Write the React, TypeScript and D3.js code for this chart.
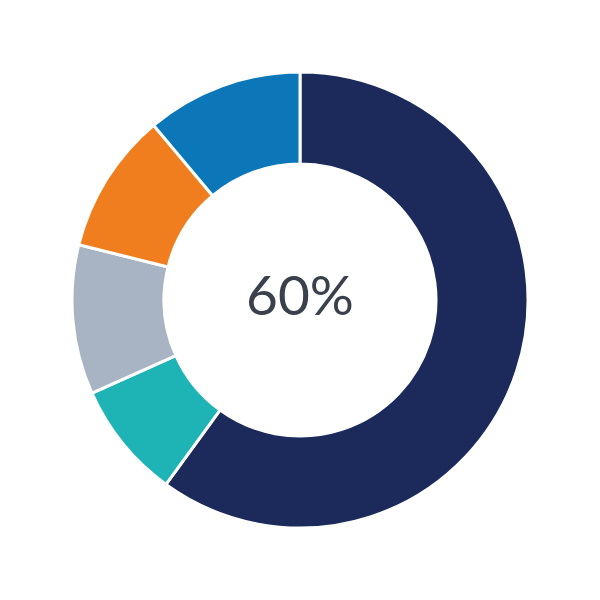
import React from "react";
import * as d3 from "d3";

const categories = ["Navy", "Teal", "Gray", "Orange", "Blue"];
const values = [60, 8.3, 10.6, 10, 11.1];
const colors = ["#1b2a5a", "#1eb4b5", "#a8b3c3", "#f07e1f", "#0b77b8"];
const centerLabel = "60%";

export default function App() {
  const width = 600;
  const height = 600;
  const cx = 300;
  const cy = 300;
  const pie = d3.pie<number>().sort(null).value((d) => d);
  const arcs = pie(values);
  const arc = d3.arc<d3.PieArcDatum<number>>().innerRadius(136).outerRadius(228);
  return (
    <svg
      width={width}
      height={height}
      style={{ position: "absolute", left: 0, top: 0, background: "#fff" }}
    >
      <g transform={`translate(${cx},${cy})`}>
        {arcs.map((a, i) => (
          <path
            key={categories[i]}
            d={arc(a) || ""}
            fill={colors[i]}
            stroke="#fff"
            strokeWidth={3}
          />
        ))}
        <text
          x={0}
          y={-4}
          dy="0.35em"
          textAnchor="middle"
          fontFamily="Lato, sans-serif"
          fontWeight={400}
          fontSize={55}
          fill="#3a414c"
        >
          {centerLabel}
        </text>
      </g>
    </svg>
  );
}
